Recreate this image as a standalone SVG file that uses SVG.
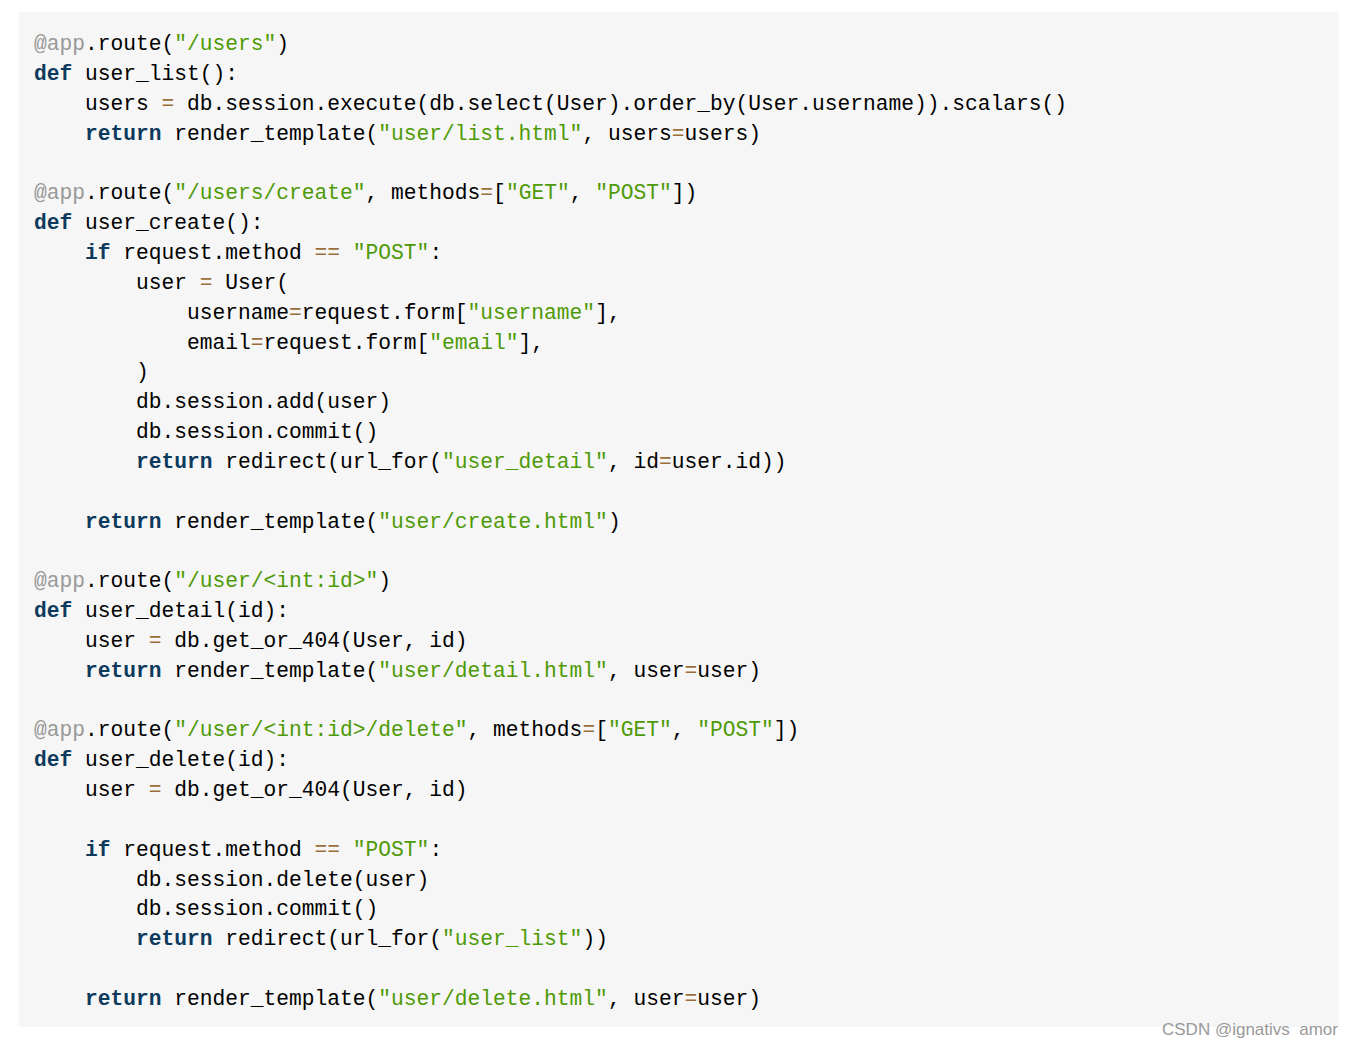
<svg xmlns="http://www.w3.org/2000/svg" width="1372" height="1048" viewBox="0 0 1372 1048">
<style>
text{font-family:"Liberation Mono","DejaVu Sans Mono",monospace;font-size:21.25px;fill:#000;white-space:pre}
.k{fill:#0d3a5c;font-weight:bold}.s{fill:#4e9a06}.d{fill:#999}.o{fill:#9a6e3a}
.w{font-family:"Liberation Sans",Arial,sans-serif;font-size:17px;fill:#999}
</style>
<rect width="1372" height="1048" fill="#fff"/>
<rect x="19" y="12" width="1320" height="1015" fill="#f6f6f6"/>
<g id="code" xml:space="preserve">
<text x="34" y="50"><tspan class="d">@app</tspan>.route(<tspan class="s">"/users"</tspan>)</text>
<text x="34" y="80"><tspan class="k">def</tspan> user_list():</text>
<text x="34" y="110">    users <tspan class="o">=</tspan> db.session.execute(db.select(User).order_by(User.username)).scalars()</text>
<text x="34" y="140">    <tspan class="k">return</tspan> render_template(<tspan class="s">"user/list.html"</tspan>, users<tspan class="o">=</tspan>users)</text>
<text x="34" y="199"><tspan class="d">@app</tspan>.route(<tspan class="s">"/users/create"</tspan>, methods<tspan class="o">=</tspan>[<tspan class="s">"GET"</tspan>, <tspan class="s">"POST"</tspan>])</text>
<text x="34" y="229"><tspan class="k">def</tspan> user_create():</text>
<text x="34" y="259">    <tspan class="k">if</tspan> request.method <tspan class="o">==</tspan> <tspan class="s">"POST"</tspan>:</text>
<text x="34" y="289">        user <tspan class="o">=</tspan> User(</text>
<text x="34" y="319">            username<tspan class="o">=</tspan>request.form[<tspan class="s">"username"</tspan>],</text>
<text x="34" y="349">            email<tspan class="o">=</tspan>request.form[<tspan class="s">"email"</tspan>],</text>
<text x="34" y="378">        )</text>
<text x="34" y="408">        db.session.add(user)</text>
<text x="34" y="438">        db.session.commit()</text>
<text x="34" y="468">        <tspan class="k">return</tspan> redirect(url_for(<tspan class="s">"user_detail"</tspan>, id<tspan class="o">=</tspan>user.id))</text>
<text x="34" y="528">    <tspan class="k">return</tspan> render_template(<tspan class="s">"user/create.html"</tspan>)</text>
<text x="34" y="587"><tspan class="d">@app</tspan>.route(<tspan class="s">"/user/&lt;int:id&gt;"</tspan>)</text>
<text x="34" y="617"><tspan class="k">def</tspan> user_detail(id):</text>
<text x="34" y="647">    user <tspan class="o">=</tspan> db.get_or_404(User, id)</text>
<text x="34" y="677">    <tspan class="k">return</tspan> render_template(<tspan class="s">"user/detail.html"</tspan>, user<tspan class="o">=</tspan>user)</text>
<text x="34" y="736"><tspan class="d">@app</tspan>.route(<tspan class="s">"/user/&lt;int:id&gt;/delete"</tspan>, methods<tspan class="o">=</tspan>[<tspan class="s">"GET"</tspan>, <tspan class="s">"POST"</tspan>])</text>
<text x="34" y="766"><tspan class="k">def</tspan> user_delete(id):</text>
<text x="34" y="796">    user <tspan class="o">=</tspan> db.get_or_404(User, id)</text>
<text x="34" y="856">    <tspan class="k">if</tspan> request.method <tspan class="o">==</tspan> <tspan class="s">"POST"</tspan>:</text>
<text x="34" y="886">        db.session.delete(user)</text>
<text x="34" y="915">        db.session.commit()</text>
<text x="34" y="945">        <tspan class="k">return</tspan> redirect(url_for(<tspan class="s">"user_list"</tspan>))</text>
<text x="34" y="1005">    <tspan class="k">return</tspan> render_template(<tspan class="s">"user/delete.html"</tspan>, user<tspan class="o">=</tspan>user)</text>
</g>
<text class="w" x="1162" y="1035">CSDN @ignativs  amor</text>
</svg>
